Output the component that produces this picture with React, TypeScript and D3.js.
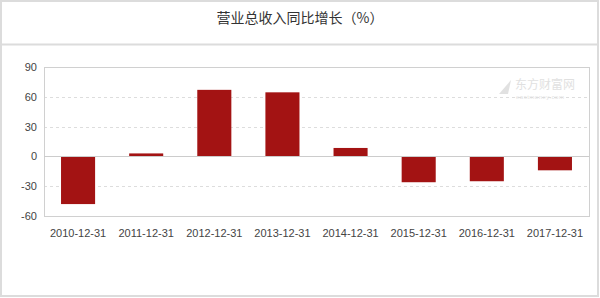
import React from "react";
import * as d3 from "d3";

const categories = ["2010-12-31", "2011-12-31", "2012-12-31", "2013-12-31", "2014-12-31", "2015-12-31", "2016-12-31", "2017-12-31"];
const values = [-48, 3, 67, 64.5, 8.5, -26, -25, -14];
const yTicks = [-60, -30, 0, 30, 60, 90];
const title = "营业总收入同比增长（%）";

export default function App() {
  const W = 600, H = 298;
  const left = 44, right = 589, top = 67, bottom = 216;
  const x = d3.scaleBand<string>().domain(categories).range([left, right]).paddingInner(0.5).paddingOuter(0.25);
  const y = d3.scaleLinear().domain([-60, 90]).range([bottom, top]);
  const font = "Arial, 'Liberation Sans', 'Noto Sans CJK SC', sans-serif";
  return (
    <svg width={W} height={H} style={{ position: "absolute", left: 0, top: 0 }} fontFamily={font}>
      <rect x={0} y={0} width={W} height={H} fill="#fff" />
      <rect x={1} y={1} width={W - 3} height={H - 3} fill="none" stroke="#dcdcdc" strokeWidth={2} />
      <line x1={1} x2={W - 2} y1={44.5} y2={44.5} stroke="#dcdcdc" strokeWidth={2} />
      <text x={300} y={23} textAnchor="middle" fontSize={14} fill="#333" fontFamily="'Noto Sans CJK SC', sans-serif">{title}</text>
      {/* watermark */}
      <g opacity={0.55}>
        <text x={515} y={89} fontSize={12} fill="#c8c8c8" fontFamily="'Noto Sans CJK SC', sans-serif">东方财富网</text>
        <text x={516} y={99} fontSize={6} fill="#c8c8c8" letterSpacing={0.5}>eastmoney.com</text>
        <path d="M499,94 L511,80 L508,94 Z" fill="#c8c8c8" />
      </g>
      {yTicks.filter(t => t !== 0 && t !== 90 && t !== -60).map(t => (
        <line key={t} x1={left} x2={right} y1={Math.round(y(t)) + 0.5} y2={Math.round(y(t)) + 0.5} stroke="#ddd" strokeDasharray="3,3" />
      ))}
      <rect x={left + 0.5} y={top + 0.5} width={right - left} height={bottom - top} fill="none" stroke="#d0d0d0" />
      {categories.map((c, i) => {
        const v = values[i];
        const y0 = y(0), y1 = y(v);
        return (
          <rect key={c} x={x(c)!} y={Math.min(y0, y1)} width={x.bandwidth()} height={Math.abs(y1 - y0)} fill="#a31313" />
        );
      })}
      <line x1={left} x2={right} y1={Math.round(y(0)) + 0.5} y2={Math.round(y(0)) + 0.5} stroke="#ccc" />
      {yTicks.map(t => (
        <text key={t} x={37} y={y(t) + 4} textAnchor="end" fontSize={11} fill="#444">{t}</text>
      ))}
      {categories.map(c => (
        <text key={c} x={x(c)! + x.bandwidth() / 2} y={237} textAnchor="middle" fontSize={11} fill="#444">{c}</text>
      ))}
    </svg>
  );
}
